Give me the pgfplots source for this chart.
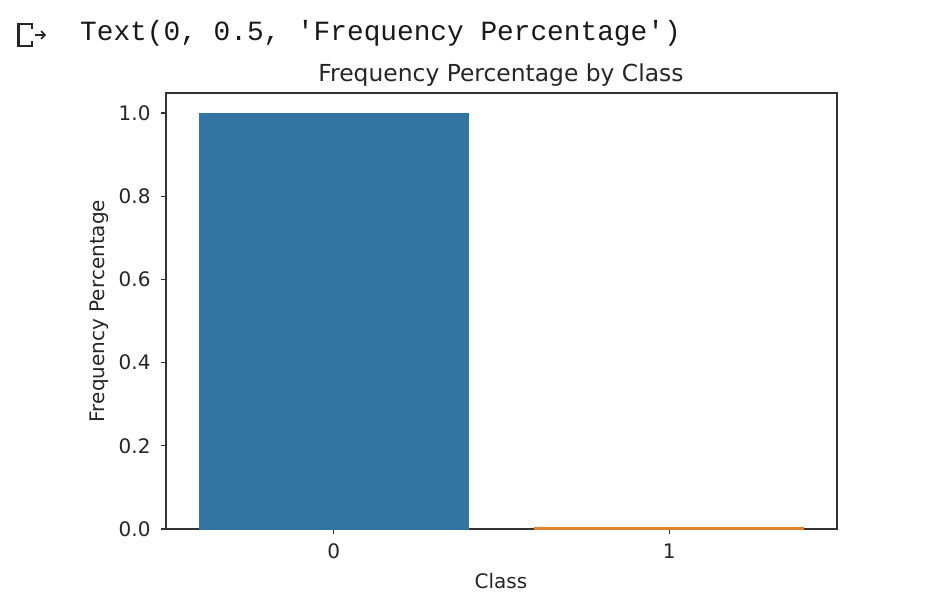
\documentclass[border=0pt]{standalone}
\usepackage{fontspec}
\setmainfont{DejaVu Sans}
\newfontfamily\codefont{Liberation Mono}[Ligatures=TeXOff]
\usepackage{pgfplots}
\pgfplotsset{compat=1.18}

\definecolor{sbblue}{HTML}{3274A1}
\definecolor{sborange}{HTML}{E1812C}
\definecolor{spine}{HTML}{333333}

\begin{document}
\begin{tikzpicture}
\path[use as bounding box, fill=white] (0bp,0bp) rectangle (936bp,-614bp);

% output cell icon and the returned text
\draw[line width=2.6bp, black!85] (32bp,-29bp)--(32bp,-24bp)--(18.5bp,-24bp)--(18.5bp,-46bp)--(32bp,-46bp)--(32bp,-41bp);
\draw[line width=1.6bp, black!85] (35bp,-35bp)--(45bp,-35bp) (41bp,-31bp)--(45bp,-35bp)--(41bp,-39bp);
\node[anchor=base west, inner sep=0pt, black!90, font=\codefont\fontsize{27.8bp}{30bp}\selectfont]
  at (80bp,-40bp) {Text(0, 0.5, 'Frequency Percentage')};

\begin{axis}[
    at={(166bp,-529bp)}, anchor=south west,
    scale only axis, width=671bp, height=436bp,
    xmin=-0.5, xmax=1.5, ymin=0, ymax=1.048,
    xtick={0,1},
    ytick={0,0.2,0.4,0.6,0.8,1.0},
    tick pos=left, tick align=outside, major tick length=5bp,
    axis line style={spine, line width=1.1bp},
    tick style={spine, line width=1.1bp},
    ticklabel style={font=\fontsize{20bp}{22bp}\selectfont, text=black!85},
    /pgf/number format/assume math mode=true,
    xticklabel style={yshift=-6bp},
    yticklabel style={xshift=-7bp, /pgf/number format/fixed, /pgf/number format/fixed zerofill, /pgf/number format/precision=1},
    ybar, bar width=0.8, bar shift=0pt,
]
\addplot[fill=sbblue, draw=sbblue, line width=0.5bp] coordinates {(0,0.9983)};
\addplot[fill=sborange, draw=sborange, line width=1.8bp] coordinates {(1,0.0017)};
\end{axis}

\node[anchor=base, inner sep=0pt, black!85, font=\fontsize{23.4bp}{26bp}\selectfont]
  at (501bp,-81bp) {Frequency Percentage by Class};
\node[anchor=base, inner sep=0pt, black!85, font=\fontsize{20bp}{22bp}\selectfont]
  at (501bp,-588bp) {Class};
\node[anchor=base, rotate=90, inner sep=0pt, black!85, font=\fontsize{20bp}{22bp}\selectfont]
  at (104bp,-311bp) {Frequency Percentage};
\end{tikzpicture}
\end{document}
